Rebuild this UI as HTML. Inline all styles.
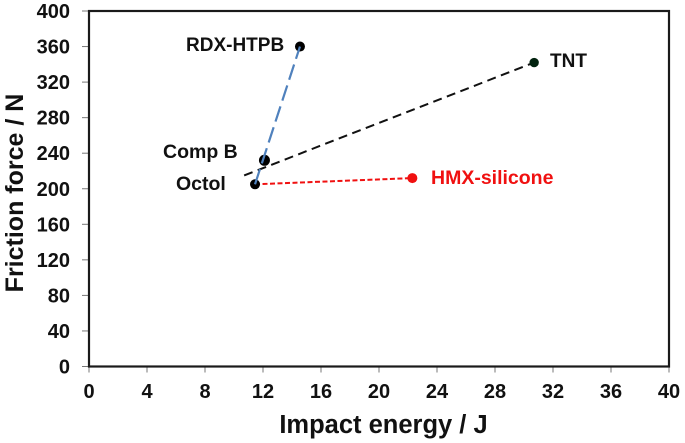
<!DOCTYPE html>
<html>
<head>
<meta charset="utf-8">
<style>
html,body{margin:0;padding:0;background:#fff;width:685px;height:443px;overflow:hidden}
svg{display:block;font-family:"Liberation Sans",Arial,sans-serif;font-weight:bold;filter:blur(0.35px)}
</style>
</head>
<body>
<svg id="chart" xmlns="http://www.w3.org/2000/svg" width="685" height="443" viewBox="0 0 685 443"></svg>
<script>
const xTicks = [0,4,8,12,16,20,24,28,32,36,40];
const yTicks = [0,40,80,120,160,200,240,280,320,360,400];
const materials = ['RDX-HTPB','Comp B','Octol','TNT','HMX-silicone'];
const impactEnergy = [14.55,12.1,11.45,30.7,22.3];
const frictionForce = [360,232,205,342,212];
const rdxLineX = [11.45,14.55];
const rdxLineY = [205,360];
const tntLineX = [10.7,30.7];
const tntLineY = [215,342];
const hmxLineX = [11.45,22.3];
const hmxLineY = [205,212];

const L=89,R=669,T=11,B=366.5;
const xMax=40,yMax=400;
const sx=v=>L+v/xMax*(R-L);
const sy=v=>B-v/yMax*(B-T);
const svg=document.getElementById('chart');
const NS='http://www.w3.org/2000/svg';
function mk(tag,attrs,txt){
  const e=document.createElementNS(NS,tag);
  for(const k in attrs)e.setAttribute(k,attrs[k]);
  if(txt!==undefined)e.textContent=txt;
  svg.appendChild(e);
  return e;
}
xTicks.forEach(v=>{
  const t=mk('line',{x1:sx(v),x2:sx(v),y1:B,y2:B+6,stroke:'#777','stroke-width':1});
  
  
  const l=mk('text',{x:sx(v),y:398,'text-anchor':'middle','font-size':20,fill:'#111'},v);
  
  
});
yTicks.forEach(v=>{
  const t=mk('line',{x1:L-7,x2:L,y1:sy(v),y2:sy(v),stroke:'#777','stroke-width':1});
  
  
  const l=mk('text',{x:70,y:sy(v)+7,'text-anchor':'end','font-size':20,fill:'#111'},v);
  
  
});
const frame=mk('rect',{x:L,y:T,width:R-L,height:B-T,fill:'none',stroke:'#1a1a1a','stroke-width':2.2});



const tntLine=mk('line',{x1:sx(tntLineX[0]),y1:sy(tntLineY[0]),x2:sx(tntLineX[1]),y2:sy(tntLineY[1]),stroke:'#111','stroke-width':2,'stroke-dasharray':'9 5.5'});


const hmxLine=mk('line',{x1:sx(hmxLineX[0]),y1:sy(hmxLineY[0]),x2:sx(hmxLineX[1]),y2:sy(hmxLineY[1]),stroke:'#f01010','stroke-width':2,'stroke-dasharray':'5 2.5'});



const colors=['#000','#000','#000','#02230f','#f01010'];
const radii=[5,5.5,5,4.7,5];
materials.forEach((m,i)=>{
  const p=mk('circle',{cx:sx(impactEnergy[i]),cy:sy(frictionForce[i]),r:radii[i],fill:colors[i]});
  
  
});
const rdxLine=mk('line',{x1:sx(rdxLineX[0]),y1:sy(rdxLineY[0]),x2:sx(rdxLineX[1]),y2:sy(rdxLineY[1]),stroke:'#4f81bd','stroke-width':2.2,'stroke-dasharray':'16 6'});



const labelX=[186,163,176,550,431];
const labelY=[51,158,190,67,184];
const labelSize=[19,19.5,19.5,19,19.5];
materials.forEach((m,i)=>{
  const t=mk('text',{x:labelX[i],y:labelY[i],'font-size':labelSize[i],fill:i===4?'#f01010':'#111'},m);
  
  
});
const xt=mk('text',{x:383.5,y:433,'text-anchor':'middle','font-size':25.5,fill:'#111'},'Impact energy / J');


const yt=mk('text',{x:0,y:0,'text-anchor':'middle','font-size':25,fill:'#111',transform:'translate(23,193) rotate(-90)'},'Friction force / N');


</script>
</body>
</html>
